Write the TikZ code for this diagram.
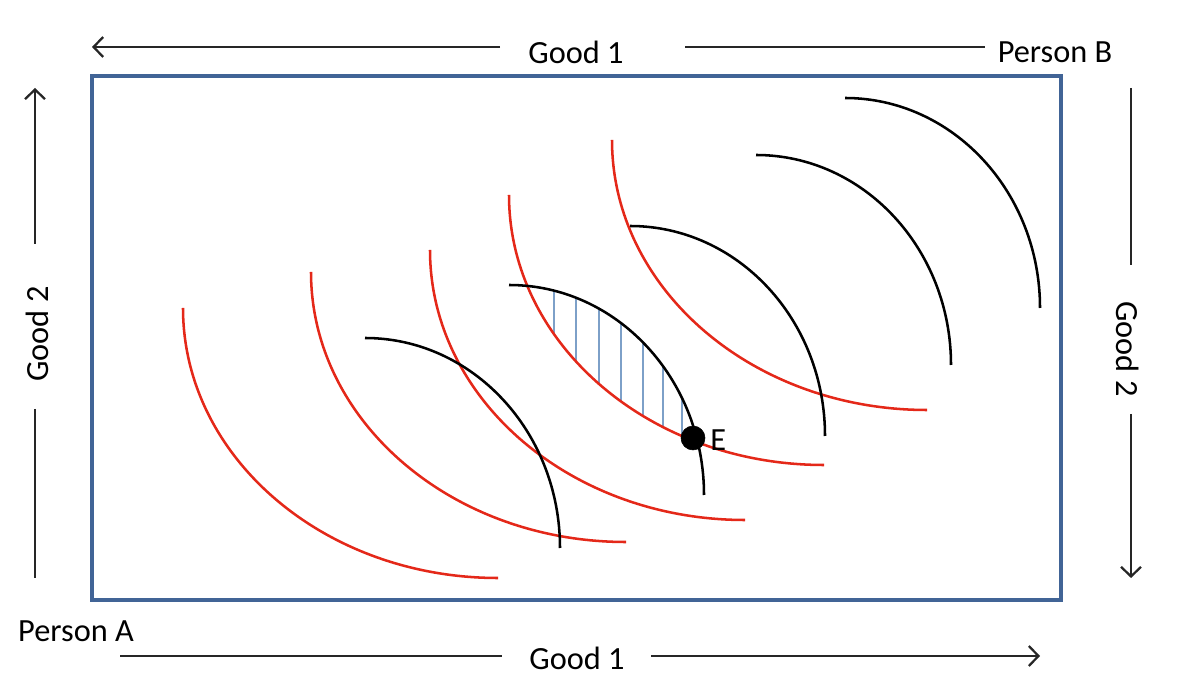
\documentclass[tikz,border=0pt]{standalone}
\usepackage{fontspec}
\setmainfont{Carlito}
\usetikzlibrary{arrows.meta}
\definecolor{boxblue}{RGB}{65,100,150}
\definecolor{curvered}{RGB}{228,40,25}
\definecolor{hatchblue}{RGB}{125,160,200}
\def\curveA(#1,#2){\draw[line width=1.8pt, color=curvered] (#1,#2) arc (180:270:315 and 270);}
\def\curveB(#1,#2){\draw[line width=1.8pt, color=black] (#1,#2) arc (90:0:195 and 210);}

\begin{document}
\begin{tikzpicture}[x=0.025cm, y=0.025cm, font=\fontsize{23}{27}\selectfont,
		axis/.style={line width=1.4pt, color=black!85},
		>={Straight Barb[length=2.4mm,width=5mm,line width=1.6pt]}]
			%%%%% START %%%%%
			\useasboundingbox (0,0) rectangle (1200,689);
			
			\draw[line width=2.2pt, color=boxblue] (92, 89) rectangle (1061, 613);
			
			% top axis
			\node[inner sep=0] (goodtop) at (576, 637) {Good 1};
			\node[inner sep=0] (personB) at (1055, 637) {Person B};
			\coordinate (topA) at (500, 642);
			\coordinate (topB) at (92, 642);
			\coordinate (topC) at (685, 642);
			\coordinate (topD) at (985, 642);
			\draw[axis, ->] (topA) -- (topB);
			\draw[axis] (topC) -- (topD);
			
			% bottom axis
			\node[inner sep=0] (personA) at (76, 58) {Person A};
			\node[inner sep=0] (goodbot) at (577, 31) {Good 1};
			\coordinate (botA) at (120, 33);
			\coordinate (botB) at (502, 33);
			\coordinate (botC) at (651, 33);
			\coordinate (botD) at (1040, 33);
			\draw[axis] (botA) -- (botB);
			\draw[axis, ->] (botC) -- (botD);
			
			% left axis
			\node[inner sep=0, rotate=90] (goodleft) at (37, 355) {Good 2};
			\coordinate (leftA) at (35, 445);
			\coordinate (leftB) at (35, 601);
			\coordinate (leftC) at (35, 280);
			\coordinate (leftD) at (35, 111);
			\draw[axis, ->] (leftA) -- (leftB);
			\draw[axis] (leftC) -- (leftD);
			
			% right axis
			\node[inner sep=0, rotate=-90] (goodright) at (1128, 340) {Good 2};
			\coordinate (rightA) at (1131, 601);
			\coordinate (rightB) at (1131, 424);
			\coordinate (rightC) at (1131, 275);
			\coordinate (rightD) at (1131, 111);
			\draw[axis] (rightA) -- (rightB);
			\draw[axis, ->] (rightC) -- (rightD);
			
			% hatched area
			\begin{scope}
				\clip (509, 404) arc (90:0:195 and 210) -- (704, 0) -- (509, 0) -- cycle;
				\clip (509, 494) arc (180:270:315 and 270) -- (824, 689) -- (509, 689) -- cycle;
				\foreach \x in {554, 576, 599, 621, 643, 663, 682}
					\draw[line width=1pt, color=hatchblue] (\x, 0) -- (\x, 689);
			\end{scope}
			
			% person A
			\curveA(183, 381)
			\curveA(311, 417)
			\curveA(430, 439)
			\curveA(509, 494)
			\curveA(612, 549)
			
			% person B
			\curveB(365, 351)
			\curveB(509, 404)
			\curveB(630, 463)
			\curveB(756, 534)
			\curveB(845, 591)
			
			\draw[fill=black] (693, 251) circle (12);
			\node[inner sep=0, anchor=west] (elabel) at (710, 249) {E};
			
			%%%%% END %%%%%
		\end{tikzpicture}
\end{document}
